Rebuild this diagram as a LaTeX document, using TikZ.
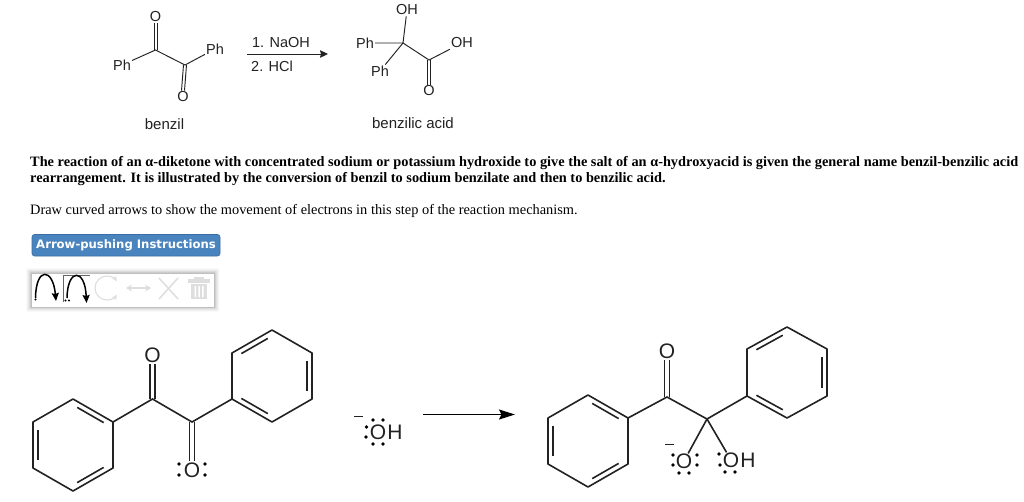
\documentclass[tikz,border=0pt]{standalone}
\usepackage{fontspec}
\setmainfont{Liberation Serif}
\newfontfamily\chemf{Liberation Sans}
\newfontfamily\btnf{DejaVu Sans}
\usetikzlibrary{calc,arrows.meta}
\definecolor{ink}{HTML}{222222}
\definecolor{btn}{HTML}{4A84BE}
\definecolor{btnedge}{HTML}{3A6EA5}
\definecolor{iconoff}{HTML}{DEDEDE}
\tikzset{
  small/.style={font=\chemf\fontsize{14.5}{16}\selectfont,text=ink,inner sep=1pt},
  caption/.style={font=\chemf\fontsize{15}{17}\selectfont,text=ink,inner sep=1pt},
  atom/.style={font=\chemf\fontsize{21}{23}\selectfont,text=ink,inner sep=1.5pt},
  thinbond/.style={draw=ink,line width=0.95pt},
  bond/.style={draw=ink,line width=1.6pt},
  para/.style={anchor=base west,inner sep=0pt,text=black},
  pair/.style={circle,fill=black,inner sep=0pt,minimum size=3.8pt},
  iconon/.style={draw=black,line width=1.5pt,-{Stealth[length=8pt,width=7pt,inset=1pt]}},
  iconoffline/.style={draw=iconoff,line width=1.5pt},
}
% ring inner bond: #1,#2 ends, #3 ring centre
\newcommand{\innerbond}[3]{\draw[bond] ($($(#1)!.12!(#2)$)!.13!(#3)$) -- ($($(#2)!.12!(#1)$)!.13!(#3)$);}
% hexagon ring from six named corners; first corner order sets the double bonds
\newcommand{\hexring}[7]{%
  \draw[bond,line join=round] (#1)--(#2)--(#3)--(#4)--(#5)--(#6)--cycle;
  \coordinate (#7) at ($(#1)!.5!(#4)$);
  \innerbond{#1}{#2}{#7}\innerbond{#3}{#4}{#7}\innerbond{#5}{#6}{#7}}
\begin{document}
\begin{tikzpicture}[x=1pt,y=-1pt]
\useasboundingbox (0,0) rectangle (1024,501);
\fill[white] (0,0) rectangle (1024,501);
% ---- benzil
\coordinate (bc1) at (155.5,50);
\coordinate (bc2) at (185,65);
\node[small] (bph1) at (122,65) {Ph};
\node[small] (bph2) at (215,49) {Ph};
\node[small] (bo1) at (155.5,17) {O};
\node[small] (bo2) at (183,97) {O};
\draw[thinbond] (bph1) -- (bc1) -- (bc2) -- (bph2);
\draw[thinbond] ([xshift=-1.5]bc1) -- ([xshift=-1.5]bo1.south);
\draw[thinbond] ([xshift=1.5]bc1) -- ([xshift=1.5]bo1.south);
\draw[thinbond] ([xshift=-1.5]bc2) -- ([xshift=-1.5]bo2.north);
\draw[thinbond] ([xshift=1.5]bc2) -- ([xshift=1.5]bo2.north);
\node[caption] (lbenzil) at (164.5,124) {benzil};
% ---- reaction arrow
\coordinate (ra) at (247,54);
\coordinate (rb) at (328,54);
\draw[thinbond,-{Stealth[length=8pt,width=7.5pt,inset=1pt]}] (ra) -- (rb);
\node[small] (r1) at (281,42.5) {1. NaOH};
\node[small] (r2) at (272,66) {2. HCl};
% ---- benzilic acid
\coordinate (ac1) at (403,43);
\coordinate (ac2) at (429,60);
\node[small] (aoh1) at (407,10) {OH};
\node[small] (aph1) at (365,43) {Ph};
\node[small] (aph2) at (380,71) {Ph};
\node[small] (aoh2) at (462,43) {OH};
\node[small] (ao) at (429,91) {O};
\draw[thinbond] (aoh1) -- (ac1) -- (aph1);
\draw[thinbond] (ac1) -- (aph2);
\draw[thinbond] (ac1) -- (ac2) -- (aoh2);
\draw[thinbond] ([xshift=-1.5]ac2) -- ([xshift=-1.5]ao.north);
\draw[thinbond] ([xshift=1.5]ac2) -- ([xshift=1.5]ao.north);
\node[caption] (lacid) at (413,123) {benzilic acid};
% ---- text
\node[para,font=\bfseries\fontsize{14.33}{16}\selectfont] (t1) at (30,166) {The reaction of an α-diketone with concentrated sodium or potassium hydroxide to give the salt of an α-hydroxyacid is given the general name benzil-benzilic acid};
\node[para,font=\bfseries\fontsize{14.33}{16}\selectfont] (t2) at (30,182) {rearrangement. It is illustrated by the conversion of benzil to sodium benzilate and then to benzilic acid.};
\node[para,font=\fontsize{14.37}{16}\selectfont] (t3) at (30,214) {Draw curved arrows to show the movement of electrons in this step of the reaction mechanism.};
% ---- button
\draw[btnedge,fill=btn,rounded corners=2.5pt,line width=0.6pt] (32,234.5) rectangle (220,256);
\node[inner sep=0pt,text=white,font=\btnf\bfseries\fontsize{11.65}{13}\selectfont] (btntext) at (126,245.6) {Arrow-pushing Instructions};
% ---- toolbar
\foreach \sh/\op in {5/.02,4/.03,3/.04,2/.05,1/.07}{
  \fill[black,opacity=\op,rounded corners=1pt] (31-\sh,273-\sh) rectangle (214.5+\sh,307+\sh);}
\draw[draw=black!25,fill=white,line width=0.8pt] (31,273) rectangle (214.5,307);
\draw[draw=black!60,line width=0.6pt] (63,302) -- (63,275.5) -- (90,275.5);
\coordinate (i1a) at (35.5,298); \coordinate (i1b) at (56,301);
\draw[iconon] (i1a) .. controls (36,266) and (53,268) .. (i1b);
\node[circle,fill=black,inner sep=0pt,minimum size=2.2pt] (d1) at (35.5,299.5) {};
\coordinate (i2a) at (67,298); \coordinate (i2b) at (86.5,303);
\draw[iconon] (i2a) .. controls (67.5,268) and (85,268) .. (i2b);
\node[circle,fill=black,inner sep=0pt,minimum size=2.2pt] (d2) at (65.5,300.5) {};
\node[circle,fill=black,inner sep=0pt,minimum size=2.2pt] (d3) at (69,300.5) {};
\draw[iconoffline,line width=1.1pt,-{Stealth[length=5pt,width=5pt]}] (95,288) arc (180:325:12);
\draw[iconoffline,line width=1.1pt,-{Stealth[length=5pt,width=5pt]}] (95,288) arc (180:35:12);
\coordinate (dl) at (126,288); \coordinate (dr) at (151,288);
\draw[iconoffline,{Stealth[length=6pt,width=7pt]}-{Stealth[length=6pt,width=7pt]}] (dl) -- (dr);
\coordinate (x1) at (159,278); \coordinate (x2) at (178,299);
\coordinate (x3) at (178,278); \coordinate (x4) at (159,299);
\draw[iconoffline] (x1) -- (x2) (x3) -- (x4);
\fill[iconoff] (188,279) rectangle (210,282.5);
\fill[iconoff] (194,277) rectangle (204,279);
\fill[iconoff] (191,284) rectangle (207,299);
\fill[white] (194.5,286) rectangle (196,297) (198.3,286) rectangle (199.8,297) (202,286) rectangle (203.5,297);
% ---- reactant
\coordinate (la1) at (113,422); \coordinate (la2) at (73,399); \coordinate (la3) at (33,422);
\coordinate (la4) at (33,468); \coordinate (la5) at (73,491); \coordinate (la6) at (113,468);
\hexring{la1}{la2}{la3}{la4}{la5}{la6}{lac}
\coordinate (ra1) at (232,399); \coordinate (ra2) at (272,422); \coordinate (ra3) at (312,399);
\coordinate (ra4) at (312,353); \coordinate (ra5) at (272,330); \coordinate (ra6) at (232,353);
\hexring{ra1}{ra2}{ra3}{ra4}{ra5}{ra6}{rac}
\coordinate (mc1) at (152.5,399); \coordinate (mc2) at (192,422);
\node[atom] (mo1) at (152.5,355) {O};
\node[atom] (mo2) at (192,470) {O};
\draw[bond] (la1) -- (mc1) -- (mc2) -- (ra1);
\draw[bond] ([xshift=-2.5]mc1) -- ([xshift=-2.5]mo1.south);
\draw[bond] ([xshift=2.5]mc1) -- ([xshift=2.5]mo1.south);
\draw[bond] ([xshift=-2.5]mc2) -- ([xshift=-2.5]mo2.north);
\draw[bond] ([xshift=2.5]mc2) -- ([xshift=2.5]mo2.north);
\foreach \n/\px/\py in {a/179/464,b/179/475,c/205/464,d/205/475}{\node[pair] (mp\n) at (\px,\py) {};}
% ---- hydroxide
\node[atom,inner sep=0pt] (ho) at (378,432) {O};
\node[atom,inner sep=0pt] (hh) at (395,432) {H};
\coordinate (hm1) at (354,416); \coordinate (hm2) at (363,416);
\draw[draw=ink,line width=1pt] (hm1) -- (hm2);
\foreach \n/\px/\py in {a/373/420,b/383/420,c/373/444,d/383/444,e/366.5/427,f/366/437}{\node[pair] (hp\n) at (\px,\py) {};}
% ---- step arrow
\coordinate (sa) at (423,414.5);
\coordinate (sb) at (515,414.5);
\draw[draw=black,line width=1.5pt,-{Stealth[length=16pt,width=10pt,inset=2.5pt]}] (sa) -- (sb);
% ---- product
\coordinate (pa1) at (628,418); \coordinate (pa2) at (588,395); \coordinate (pa3) at (548,418);
\coordinate (pa4) at (548,464); \coordinate (pa5) at (588,487); \coordinate (pa6) at (628,464);
\hexring{pa1}{pa2}{pa3}{pa4}{pa5}{pa6}{pac}
\coordinate (qa1) at (747,396); \coordinate (qa2) at (787,418); \coordinate (qa3) at (827,396);
\coordinate (qa4) at (827,349); \coordinate (qa5) at (787,327); \coordinate (qa6) at (747,349);
\hexring{qa1}{qa2}{qa3}{qa4}{qa5}{qa6}{qac}
\coordinate (pc1) at (667,397); \coordinate (pc2) at (707,419);
\node[atom] (po1) at (667,351) {O};
\node[atom,inner sep=0pt] (po2) at (684,461) {O};
\node[atom,inner sep=0pt] (po3) at (731,460) {O};
\node[atom,inner sep=0pt] (ph3) at (748,460) {H};
\draw[bond] (pa1) -- (pc1) -- (pc2) -- (qa1);
\draw[bond] ([xshift=-2.5]pc1) -- ([xshift=-2.5]po1.south);
\draw[bond] ([xshift=2.5]pc1) -- ([xshift=2.5]po1.south);
\draw[bond] (pc2) -- (po2);
\draw[bond] (pc2) -- (po3);
\coordinate (pm1) at (665,444); \coordinate (pm2) at (674,444);
\draw[draw=ink,line width=1pt] (pm1) -- (pm2);
\foreach \n/\px/\py in {a/673/455,b/673/465,c/697/455,d/697/465,e/679/473,f/689/473,g/719/454,h/720/465,i/725/472,j/735/472}{\node[pair] (pp\n) at (\px,\py) {};}
\end{tikzpicture}
\end{document}
